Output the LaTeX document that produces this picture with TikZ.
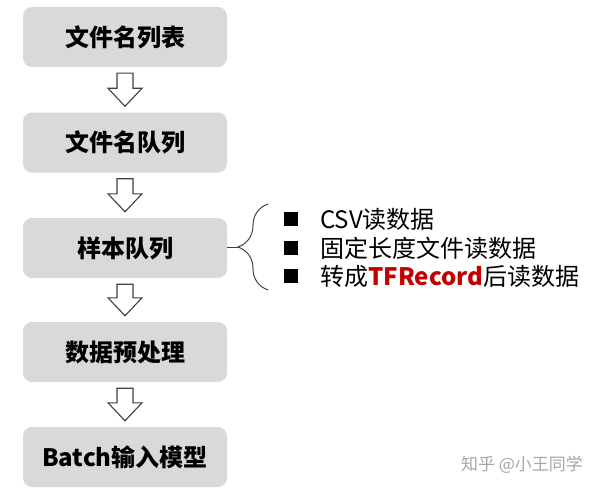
\documentclass[tikz,border=0pt]{standalone}
\usepackage{fontspec}
\setmainfont{Noto Sans CJK SC}
\usetikzlibrary{calc,decorations.pathreplacing}
\definecolor{boxgray}{HTML}{D9D9D9}
\definecolor{arrowline}{HTML}{404040}
\definecolor{tfred}{HTML}{C00000}
\definecolor{wmgray}{HTML}{A6A6A6}
\newcommand{\hollowarrow}[2]{%
  \draw[harrow] ($(#1.south)+(-8,6)$) -- ($(#1.south)+(8,6)$) -- ($(#2.north)+(8,-24)$) -- ($(#2.north)+(17,-24)$) -- ($(#2.north)+(0,-6)$) -- ($(#2.north)+(-17,-24)$) -- ($(#2.north)+(-8,-24)$) -- cycle;}
\tikzset{
  stepbox/.style={fill=boxgray, rounded corners=9pt, minimum width=204pt, minimum height=60pt, inner sep=0pt, font=\fontsize{24}{29}\selectfont\bfseries},
  harrow/.style={draw=arrowline, fill=white, line width=1.1pt, line join=miter},
  itemtext/.style={anchor=west, inner sep=0pt, font=\fontsize{24}{29}\selectfont},
  bulletsq/.style={fill=black, minimum size=14pt, inner sep=0pt},
}
\begin{document}
\begin{tikzpicture}[x=1pt,y=-1pt]
\useasboundingbox (0,0) rectangle (600,495);
\node[stepbox] (b1) at (125,37) {文件名列表};
\node[stepbox] (b2) at (125,142.5) {文件名队列};
\node[stepbox] (b3) at (125,248) {样本队列};
\node[stepbox] (b4) at (125,352) {数据预处理};
\node[stepbox] (b5) at (125,457) {Batch输入模型};
\hollowarrow{b1}{b2}
\hollowarrow{b2}{b3}
\hollowarrow{b3}{b4}
\hollowarrow{b4}{b5}
\coordinate (brtop) at (268,204);
\coordinate (brbot) at (268,290);
\coordinate (brtip) at (238,247);
\draw[arrowline, line width=1pt, decorate, decoration={brace, amplitude=30pt}] (brbot) -- (brtop);
\draw[arrowline, line width=1pt] (b3.east |- brtip) -- (brtip);
\node[bulletsq] (s1) at (291,219) {};
\node[bulletsq] (s2) at (291,248) {};
\node[bulletsq] (s3) at (291,276) {};
\node[itemtext] (t1) at (320,219) {CSV读数据};
\node[itemtext] (t2) at (320,248) {固定长度文件读数据};
\node[itemtext] (t3) at (320,276) {转成\textcolor{tfred}{\bfseries TFRecord}后读数据};
\node[text=wmgray, font=\fontsize{17}{20}\selectfont] (wm) at (522,465) {知乎 @小王同学};
\end{tikzpicture}
\end{document}
